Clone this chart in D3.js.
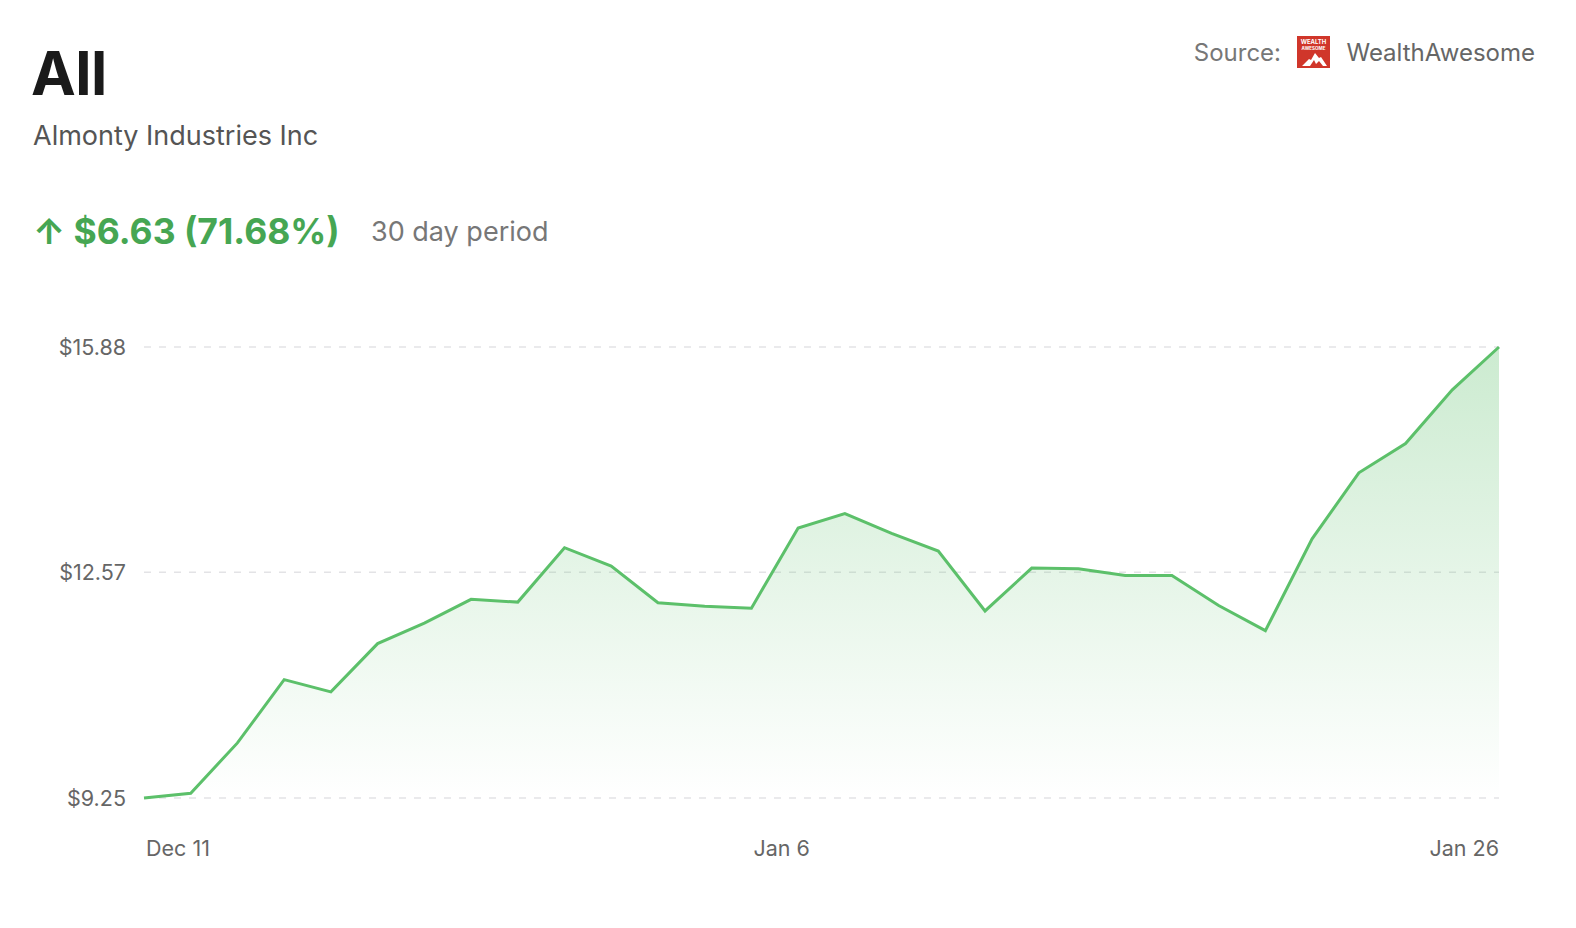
<!DOCTYPE html>
<html>
<head>
<meta charset="utf-8">
<script src="https://cdn.jsdelivr.net/npm/d3@7"></script>
<style>
  html, body { margin: 0; padding: 0; background: #fff; }
  svg { display: block; font-family: Inter, "Noto Sans", sans-serif; }
</style>
</head>
<body>
<svg id="chart" width="1576" height="928"></svg>
<script>
// ---- data ----
const ticker = "All";
const companyName = "Almonty Industries Inc";
const changeText = "↑ $6.63 (71.68%)";
const periodText = "30 day period";
const sourceName = "WealthAwesome";

const prices = [
  9.25, 9.32, 10.06, 10.99, 10.81, 11.52, 11.82, 12.17, 12.13, 12.93,
  12.66, 12.12, 12.07, 12.04, 13.22, 13.43, 13.14, 12.88, 12.00, 12.63,
  12.62, 12.52, 12.52, 12.08, 11.71, 13.06, 14.03, 14.46, 15.25, 15.88
];
const yTickValues = [9.25, 12.57, 15.88];
const yTickLabels = ["$9.25", "$12.57", "$15.88"];
const xTickLabels = ["Dec 11", "Jan 6", "Jan 26"];
const xTickIndex = [0, 13, 29];
const xTickAnchor = ["start", "start", "end"];

// ---- layout ----
const svg = d3.select("#chart");
const plot = { left: 144, right: 1499, top: 347, bottom: 798 };

const x = d3.scaleLinear().domain([0, prices.length - 1]).range([plot.left, plot.right]);
const y = d3.scaleLinear().domain([d3.min(yTickValues), d3.max(yTickValues)]).range([plot.bottom, plot.top]);

// ---- header ----
svg.append("text").attr("x", 31).attr("y", 95).attr("font-size", 60).attr("font-weight", 700)
  .attr("fill", "#1a1a1a").attr("letter-spacing", -0.5).text(ticker);
svg.append("text").attr("x", 33).attr("y", 145).attr("font-size", 27).attr("fill", "#555")
  .text(companyName);
svg.append("text").attr("x", 33).attr("y", 244).attr("font-size", 35.5).attr("font-weight", 700)
  .attr("fill", "#46a653").text(changeText);
svg.append("text").attr("x", 371).attr("y", 241).attr("font-size", 27).attr("fill", "#777")
  .text(periodText);

// source
svg.append("text").attr("x", 1281).attr("y", 61).attr("font-size", 24).attr("fill", "#777")
  .attr("text-anchor", "end").text("Source:");
const logo = svg.append("g").attr("transform", "translate(1297,36)");
logo.append("rect").attr("width", 33).attr("height", 32).attr("fill", "#d0362a");
logo.append("text").attr("x", 16.5).attr("y", 8).attr("font-size", 6).attr("font-weight", 700)
  .attr("fill", "#fff").attr("text-anchor", "middle").text("WEALTH");
logo.append("text").attr("x", 16.5).attr("y", 13.5).attr("font-size", 4.5).attr("font-weight", 700)
  .attr("fill", "#fff").attr("text-anchor", "middle").text("AWESOME");
logo.append("path").attr("d", "M5,30 L12,23 L14,24 L18,17 L22,22 L24,21 L30,30 L26,30 L22,25 L19,28 L17,24 L13,30 Z")
  .attr("fill", "#fff");
svg.append("text").attr("x", 1535).attr("y", 61).attr("font-size", 24).attr("fill", "#666")
  .attr("text-anchor", "end").text(sourceName);

// ---- grid ----
const grid = svg.append("g");
grid.selectAll("line").data(yTickValues).join("line")
  .attr("x1", plot.left).attr("x2", plot.right)
  .attr("y1", d => y(d)).attr("y2", d => y(d))
  .attr("stroke", "#e3e3e6").attr("stroke-width", 1.5).attr("stroke-dasharray", "7,8");

// y axis labels
svg.append("g").selectAll("text").data(yTickValues).join("text")
  .attr("x", 126).attr("y", d => y(d) + 8)
  .attr("text-anchor", "end").attr("font-size", 21.5).attr("fill", "#666")
  .text((d, i) => yTickLabels[i]);

// ---- area + line ----
const defs = svg.append("defs");
const grad = defs.append("linearGradient").attr("id", "areaGrad")
  .attr("gradientUnits", "userSpaceOnUse")
  .attr("x1", 0).attr("x2", 0).attr("y1", plot.top).attr("y2", plot.bottom);
grad.append("stop").attr("offset", "0%").attr("stop-color", "#5ec06c").attr("stop-opacity", 0.32);
grad.append("stop").attr("offset", "100%").attr("stop-color", "#5ec06c").attr("stop-opacity", 0.0);

const area = d3.area().x((d, i) => x(i)).y0(plot.bottom).y1(d => y(d));
const line = d3.line().x((d, i) => x(i)).y(d => y(d));

svg.append("path").datum(prices).attr("d", area).attr("fill", "url(#areaGrad)");
svg.append("path").datum(prices).attr("d", line).attr("fill", "none")
  .attr("stroke", "#5cc06a").attr("stroke-width", 3).attr("stroke-linejoin", "miter")
  .attr("stroke-linecap", "butt");

// ---- x labels ----
svg.append("g").selectAll("text").data(xTickLabels).join("text")
  .attr("x", (d, i) => x(xTickIndex[i]) + (xTickAnchor[i] === "start" ? 2 : 0))
  .attr("y", 856)
  .attr("text-anchor", (d, i) => xTickAnchor[i])
  .attr("font-size", 21.5).attr("fill", "#666")
  .text(d => d);
</script>
</body>
</html>
